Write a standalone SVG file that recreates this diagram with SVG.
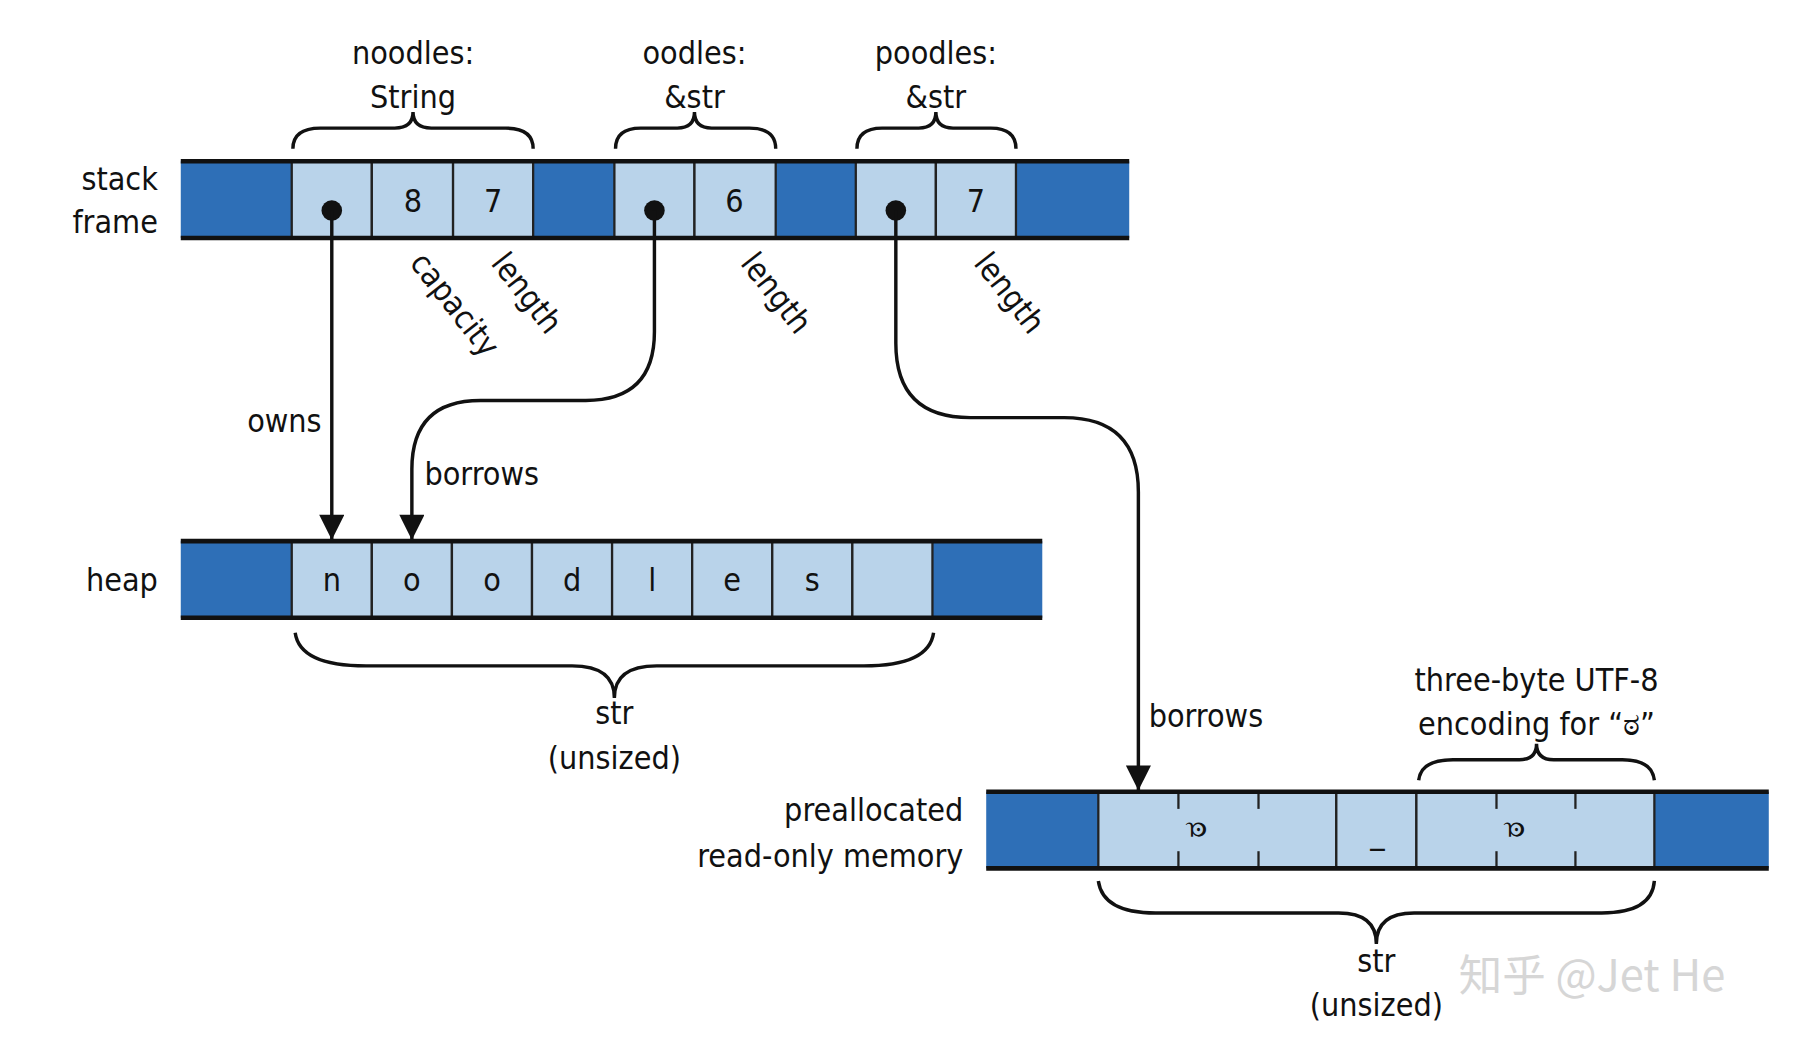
<svg xmlns="http://www.w3.org/2000/svg" width="1794" height="1046" viewBox="0 0 1794 1046">
<defs>
<style>
.d{fill:#2e6fb7}
.l{fill:#b9d3ea;stroke:#222;stroke-width:2}
.bar{stroke:#111;stroke-width:4}
.t{font-family:"Liberation Sans Narrow","DejaVu Sans Condensed","Liberation Sans",sans-serif;font-size:28px;fill:#111}
.c{text-anchor:middle}
.r{text-anchor:end}
.br{fill:none;stroke:#111;stroke-width:3}
.ar{fill:none;stroke:#111;stroke-width:3}
</style>
<marker id="a" viewBox="0 0 10 10" refX="10" refY="5" markerWidth="26" markerHeight="22" markerUnits="userSpaceOnUse" orient="auto"><path d="M0,0 L10,5 L0,10 z" fill="#111"/></marker>
</defs>
<rect width="1794" height="1046" fill="#fff"/>
<g transform="scale(1.1441)">
<g id="stack">
<rect class="d" x="158" y="141" width="829" height="67"/>
<rect class="l" x="255" y="141" width="70" height="67"/><rect class="l" x="325" y="141" width="71" height="67"/><rect class="l" x="396" y="141" width="70" height="67"/>
<rect class="l" x="537" y="141" width="70" height="67"/><rect class="l" x="607" y="141" width="71" height="67"/>
<rect class="l" x="748" y="141" width="70" height="67"/><rect class="l" x="818" y="141" width="70" height="67"/>
<line class="bar" x1="158" y1="141" x2="987" y2="141"/><line class="bar" x1="158" y1="208" x2="987" y2="208"/>
<text class="t c" x="361" y="185">8</text><text class="t c" x="431" y="185">7</text><text class="t c" x="642" y="185">6</text><text class="t c" x="853" y="185">7</text>
<text class="t r" x="138" y="166">stack</text><text class="t r" x="138" y="204">frame</text>
<circle cx="290" cy="184" r="9" fill="#111"/><circle cx="572" cy="184" r="9" fill="#111"/><circle cx="783" cy="184" r="9" fill="#111"/>
<text class="t c" x="361" y="56">noodles:</text><text class="t c" x="361" y="94">String</text>
<text class="t c" x="607" y="56">oodles:</text><text class="t c" x="607" y="94">&amp;str</text>
<text class="t c" x="818" y="56">poodles:</text><text class="t c" x="818" y="94">&amp;str</text>
<path class="br" d="M256,130 Q256,112 280,112 H345 Q361,112 361,98 Q361,112 377,112 H442 Q466,112 466,130"/>
<path class="br" d="M538,130 Q538,112 560,112 H592 Q607,112 607,98 Q607,112 622,112 H655 Q678,112 678,130"/>
<path class="br" d="M749,130 Q749,112 771,112 H803 Q818,112 818,98 Q818,112 833,112 H866 Q888,112 888,130"/>
<text class="t c" transform="translate(390,272) rotate(52)">capacity</text>
<text class="t c" transform="translate(453,262) rotate(52)">length</text>
<text class="t c" transform="translate(671,262) rotate(52)">length</text>
<text class="t c" transform="translate(875,262) rotate(52)">length</text>
</g>
<g id="heap">
<rect class="d" x="158" y="473" width="753" height="67"/>
<rect class="l" x="255" y="473" width="70" height="67"/><rect class="l" x="325" y="473" width="70" height="67"/><rect class="l" x="395" y="473" width="70" height="67"/><rect class="l" x="465" y="473" width="70" height="67"/><rect class="l" x="535" y="473" width="70" height="67"/><rect class="l" x="605" y="473" width="70" height="67"/><rect class="l" x="675" y="473" width="70" height="67"/><rect class="l" x="745" y="473" width="70" height="67"/>
<line class="bar" x1="158" y1="473" x2="911" y2="473"/><line class="bar" x1="158" y1="540" x2="911" y2="540"/>
<text class="t c" x="290" y="517">n</text><text class="t c" x="360" y="517">o</text><text class="t c" x="430" y="517">o</text><text class="t c" x="500" y="517">d</text><text class="t c" x="570" y="517">l</text><text class="t c" x="640" y="517">e</text><text class="t c" x="710" y="517">s</text>
<text class="t r" x="138" y="517">heap</text>
<path class="br" d="M258,553 Q262,582 320,582 H500 Q537,582 537,610 Q537,582 574,582 H755 Q812,582 816,553"/>
<text class="t c" x="537" y="633">str</text><text class="t c" x="537" y="672">(unsized)</text>
</g>
<g id="rom">
<rect class="d" x="862" y="692" width="684" height="67"/>
<rect class="l" x="960" y="692" width="208" height="67"/><rect class="l" x="1168" y="692" width="70" height="67"/><rect class="l" x="1238" y="692" width="208" height="67"/>
<g stroke="#222" stroke-width="2"><line x1="1030" y1="692" x2="1030" y2="707"/><line x1="1030" y1="744" x2="1030" y2="759"/><line x1="1100" y1="692" x2="1100" y2="707"/><line x1="1100" y1="744" x2="1100" y2="759"/><line x1="1308" y1="692" x2="1308" y2="707"/><line x1="1308" y1="744" x2="1308" y2="759"/><line x1="1377" y1="692" x2="1377" y2="707"/><line x1="1377" y1="744" x2="1377" y2="759"/></g>
<line class="bar" x1="862" y1="692" x2="1546" y2="692"/><line class="bar" x1="862" y1="759" x2="1546" y2="759"/>
<text class="t c" transform="translate(1054,725) rotate(-90)">ಠ</text>
<text class="t c" transform="translate(1332,725) rotate(-90)">ಠ</text>
<text class="t c" x="1204" y="737">_</text>
<text class="t r" x="842" y="718">preallocated</text><text class="t r" x="842" y="758">read-only memory</text>
<path class="br" d="M960,770 Q964,798 1010,798 H1170 Q1203,798 1203,825 Q1203,798 1236,798 H1400 Q1444,798 1446,770"/>
<text class="t c" x="1203" y="850">str</text><text class="t c" x="1203" y="888">(unsized)</text>
<path class="br" d="M1240,682 Q1242,664 1270,664 H1328 Q1343,664 1343,650 Q1343,664 1358,664 H1418 Q1444,664 1446,682"/>
<text class="t c" x="1343" y="604">three-byte UTF-8</text><text class="t c" x="1343" y="642">encoding for “ಠ”</text>
</g>
<g id="connectors">
<path class="ar" d="M290,184 V472" marker-end="url(#a)"/>
<path class="ar" d="M572,184 V290 Q572,350 512,350 H420 Q360,350 360,410 V472" marker-end="url(#a)"/>
<path class="ar" d="M783,184 V300 Q783,365 848,365 H930 Q995,365 995,430 V691" marker-end="url(#a)"/>
<text class="t" x="216" y="378">owns</text>
<text class="t" x="371" y="424">borrows</text>
<text class="t" x="1004" y="635">borrows</text>
</g>
<text x="1275" y="866" font-family="'Noto Sans CJK SC',sans-serif" font-size="38" fill="#ccc" opacity="0.8">知乎 @Jet He</text>
</g>
</svg>
